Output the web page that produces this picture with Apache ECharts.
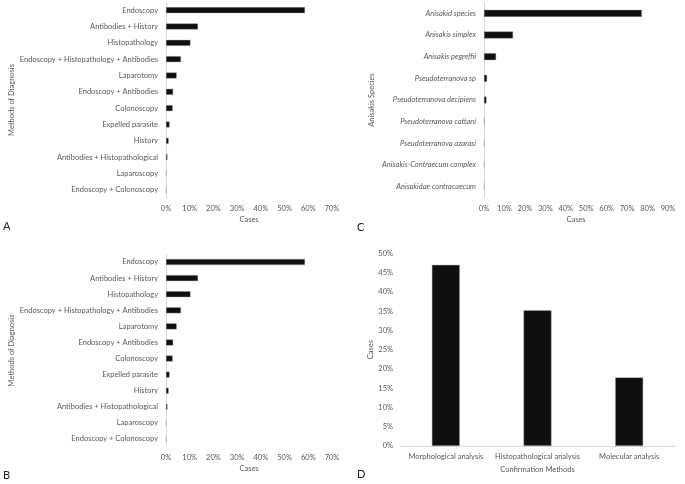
<!DOCTYPE html>
<html>
<head>
<meta charset="utf-8">
<script src="https://cdn.jsdelivr.net/npm/echarts@6/dist/echarts.min.js"></script>
<style>
    html, body { margin: 0; padding: 0; background: #fff; }
    #chart { width: 685px; height: 484px; }
</style>
</head>
<body>
<div id="chart"></div>
<script>
// 诊断方法 (A, B)
var diagCats = ['Endoscopy', 'Antibodies + History', 'Histopathology', 'Endoscopy + Histopathology + Antibodies',
    'Laparotomy', 'Endoscopy + Antibodies', 'Colonoscopy', 'Expelled parasite', 'History',
    'Antibodies + Histopathological', 'Laparoscopy', 'Endoscopy + Colonoscopy'];
var diagA = [58.6, 13.5, 10.3, 6.3, 4.5, 3.0, 2.8, 1.5, 1.1, 0.6, 0, 0];
var diagB = [58.6, 13.5, 10.3, 6.3, 4.5, 3.0, 2.8, 1.5, 1.1, 0.6, 0, 0];
var diagTicks = [0, 10, 20, 30, 40, 50, 60, 70];

// 虫种 (C)
var speciesCats = ['Anisakid species', 'Anisakis simplex', 'Anisakis pegreffii', 'Pseudoterranova sp',
    'Pseudoterranova decipiens', 'Pseudoterranova cattani', 'Pseudoterranova azarasi',
    'Anisakis-Contraecum complex', 'Anisakidae contracaecum'];
var speciesVals = [77.2, 14.2, 5.9, 1.5, 1.2, 0.3, 0, 0, 0];
var speciesTicks = [0, 10, 20, 30, 40, 50, 60, 70, 80, 90];

// 确认方法 (D)
var confCats = ['Morphological analysis', 'Histopathological analysis', 'Molecular analysis'];
var confVals = [47.0, 35.2, 17.8];
var confTicks = [0, 5, 10, 15, 20, 25, 30, 35, 40, 45, 50];

var txt = '#595959';
var font = 'Lato';
var fs = 7.5;
var barColor = '#0f0f0f';

function valueAxis(idx, ticks, name, gap) {
    return {
        type: 'value', gridIndex: idx,
        min: ticks[0], max: ticks[ticks.length - 1], interval: ticks[1] - ticks[0],
        name: name, nameLocation: 'middle', nameGap: gap,
        nameTextStyle: { color: txt, fontFamily: font, fontSize: fs },
        axisLine: { show: false }, axisTick: { show: false }, splitLine: { show: false },
        axisLabel: { color: txt, fontFamily: font, fontSize: fs, margin: 7, formatter: '{value}%' }
    };
}

function catAxisY(idx, cats, name, gap, italic) {
    return {
        type: 'category', gridIndex: idx, data: cats, inverse: true,
        name: name, nameLocation: 'middle', nameGap: gap, nameRotate: 90,
        nameTextStyle: { color: txt, fontFamily: font, fontSize: fs },
        axisLine: { show: true, lineStyle: { color: '#d9d9d9', width: 1 } },
        axisTick: { show: false },
        axisLabel: { color: txt, fontFamily: font, fontSize: fs, margin: 8, interval: 0,
            fontStyle: italic ? 'italic' : 'normal' }
    };
}

function hbar(idx, vals, w) {
    return {
        type: 'bar', xAxisIndex: idx, yAxisIndex: idx, data: vals, barWidth: w,
        itemStyle: { color: barColor, borderColor: '#a6a6a6', borderWidth: 0.4 }
    };
}

function letter(t, x, y) {
    return { type: 'text', left: x, top: y,
        style: { text: t, fill: '#222', fontFamily: font, fontSize: 11 } };
}

var option = {
    animation: false,
    backgroundColor: '#fff',
    grid: [
        { left: 166, width: 166, top: 2, height: 196 },
        { left: 166, width: 166, top: 254, height: 193 },
        { left: 484, width: 184, top: 2.5, height: 195 },
        { left: 400, width: 275, top: 253.3, height: 192.7 }
    ],
    xAxis: [
        valueAxis(0, diagTicks, 'Cases', 18),
        valueAxis(1, diagTicks, 'Cases', 18),
        valueAxis(2, speciesTicks, 'Cases', 18),
        {
            type: 'category', gridIndex: 3, data: confCats,
            name: 'Confirmation Methods', nameLocation: 'middle', nameGap: 20,
            nameTextStyle: { color: txt, fontFamily: font, fontSize: fs },
            axisLine: { show: true, lineStyle: { color: '#d9d9d9', width: 1 } },
            axisTick: { show: false },
            axisLabel: { color: txt, fontFamily: font, fontSize: fs, margin: 7, interval: 0 }
        }
    ],
    yAxis: [
        catAxisY(0, diagCats, 'Methods of Diagnosis', 144, false),
        catAxisY(1, diagCats, 'Methods of Diagnosis', 144, false),
        catAxisY(2, speciesCats, 'Anisakis Species', 108, true),
        {
            type: 'value', gridIndex: 3,
            min: confTicks[0], max: confTicks[confTicks.length - 1], interval: confTicks[1] - confTicks[0],
            name: 'Cases', nameLocation: 'middle', nameGap: 25,
            nameTextStyle: { color: txt, fontFamily: font, fontSize: fs },
            axisLine: { show: false }, axisTick: { show: false }, splitLine: { show: false },
            axisLabel: { color: txt, fontFamily: font, fontSize: fs, margin: 7, formatter: '{value}%' }
        }
    ],
    series: [
        hbar(0, diagA, 6),
        hbar(1, diagB, 6),
        hbar(2, speciesVals, 7),
        {
            type: 'bar', xAxisIndex: 3, yAxisIndex: 3, data: confVals, barWidth: 28,
            itemStyle: { color: barColor, borderColor: '#a6a6a6', borderWidth: 0.5 }
        }
    ],
    graphic: [
        letter('A', 3, 221),
        letter('B', 3, 470),
        letter('C', 357, 222),
        letter('D', 357, 469)
    ]
};

var doc = document.getElementById('chart');
echarts.init(doc).setOption(option);
</script>
</body>
</html>
